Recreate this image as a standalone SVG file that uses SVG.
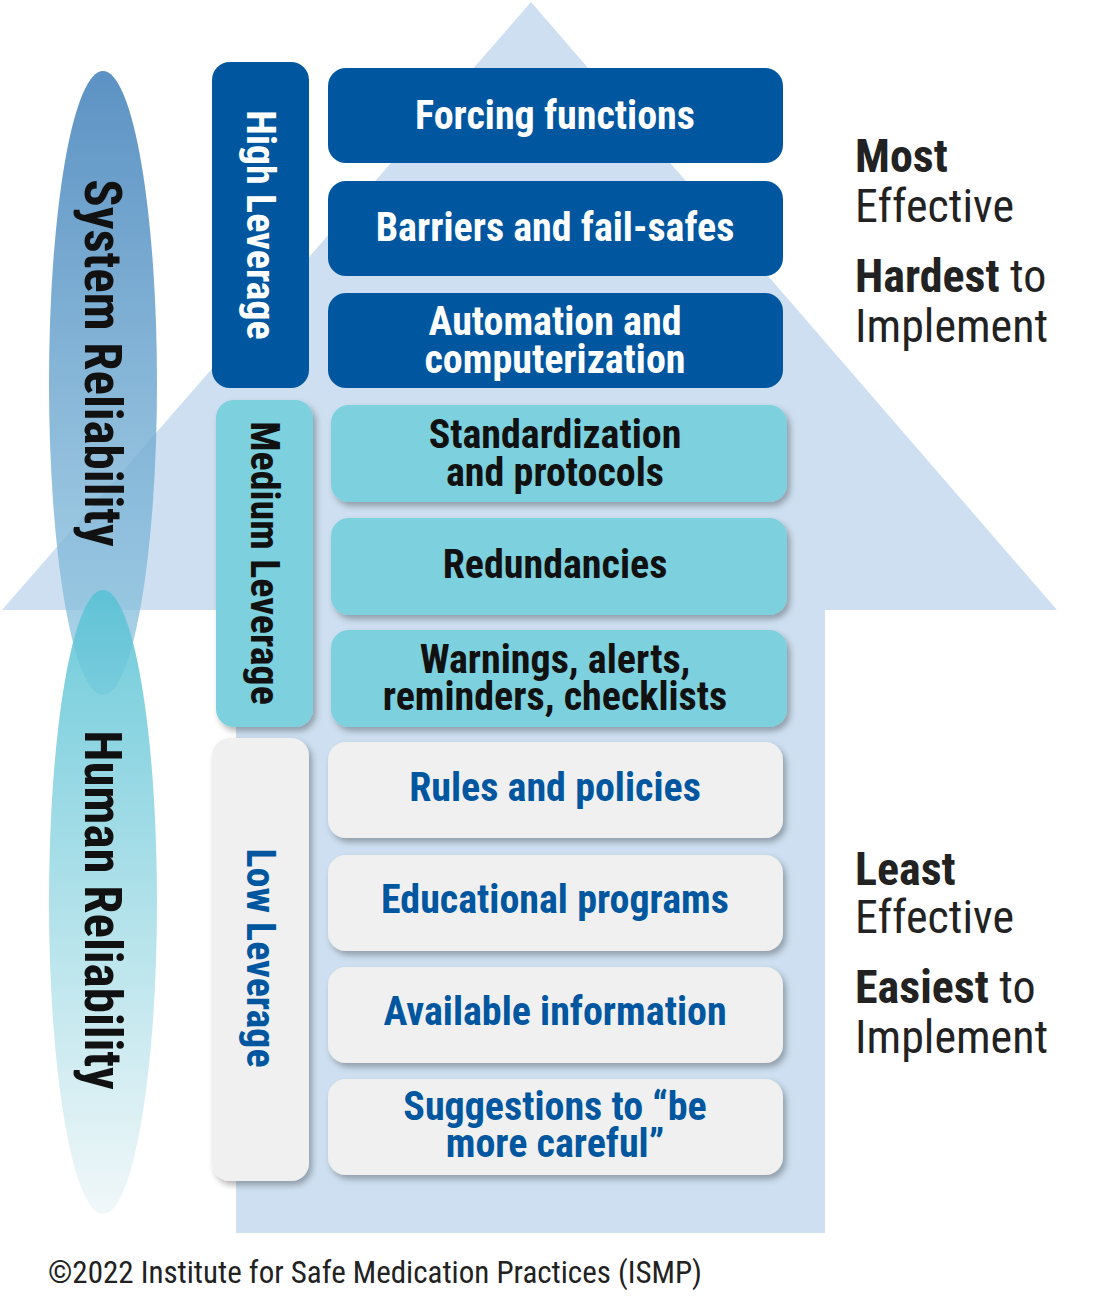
<svg xmlns="http://www.w3.org/2000/svg" width="1117" height="1297" viewBox="0 0 1117 1297">
<defs>
<linearGradient id="g1" x1="0" y1="0" x2="0" y2="1"><stop offset="0" stop-color="#4a86bd"/><stop offset="1" stop-color="#93c9e2" stop-opacity="0.85"/></linearGradient>
<linearGradient id="g2" x1="0" y1="0" x2="0" y2="1"><stop offset="0" stop-color="#55c1d4"/><stop offset="1" stop-color="#eef6f8"/></linearGradient>
<filter id="sh" x="-10%" y="-10%" width="125%" height="130%"><feDropShadow dx="3" dy="4" stdDeviation="3" flood-color="#000" flood-opacity="0.3"/></filter>
<style>
text{font-family:"Liberation Sans Narrow","Roboto Condensed",Roboto,"Liberation Sans",sans-serif;}
.b{font-weight:bold;font-size:40px;text-anchor:middle;}
.w{fill:#fff}.k{fill:#111}.u{fill:#0057a0}
.dark{fill:#0057a0}.teal{fill:#7dd0dd;filter:url(#sh)}.gray{fill:#f0f0f0;filter:url(#sh)}
.r{font-size:46px;fill:#222}
.lev{font-weight:bold;font-size:40px;text-anchor:middle}
.rel{font-weight:bold;font-size:51px;text-anchor:middle;fill:#111}
</style>
</defs>
<rect width="1117" height="1297" fill="#fff"/>
<g id="arrow"><polygon points="531,2 1057,610 825,610 825,1233 236,1233 236,610 2,610" fill="#cddff0"/></g>
<g id="ellipses">
<ellipse cx="103" cy="383" rx="54" ry="312" fill="url(#g1)" opacity="0.9"/>
<ellipse cx="103" cy="902" rx="54" ry="312" fill="url(#g2)" opacity="0.85"/>
<text transform="translate(85,363) rotate(90)" class="rel">System Reliability</text>
<text transform="translate(85,910) rotate(90)" class="rel">Human Reliability</text>
</g>
<g id="high"><rect x="212" y="62" width="97" height="326" rx="18" class="dark"/><text transform="translate(247,225) rotate(90)" class="lev w">High Leverage</text></g>
<g id="medium"><rect x="216" y="400" width="97" height="327" rx="18" class="teal"/><text transform="translate(251,563) rotate(90)" class="lev k">Medium Leverage</text></g>
<g id="low"><rect x="212" y="738" width="97" height="443" rx="18" class="gray"/><text transform="translate(247,958) rotate(90)" class="lev u">Low  Leverage</text></g>
<g id="n1"><rect x="328" y="68" width="455" height="95" rx="18" class="dark"/><text x="555" y="129" class="b w">Forcing functions</text></g>
<g id="n2"><rect x="328" y="181" width="455" height="95" rx="18" class="dark"/><text x="555" y="241" class="b w">Barriers and fail-safes</text></g>
<g id="n3"><rect x="328" y="293" width="455" height="95" rx="18" class="dark"/><text x="555" y="335" class="b w">Automation and</text><text x="555" y="373" class="b w">computerization</text></g>
<g id="n4"><rect x="331" y="405" width="456" height="97" rx="18" class="teal"/><text x="555" y="448" class="b k">Standardization</text><text x="555" y="486" class="b k">and protocols</text></g>
<g id="n5"><rect x="331" y="518" width="456" height="97" rx="18" class="teal"/><text x="555" y="578" class="b k">Redundancies</text></g>
<g id="n6"><rect x="331" y="630" width="456" height="97" rx="18" class="teal"/><text x="555" y="673" class="b k">Warnings, alerts,</text><text x="555" y="710" class="b k">reminders, checklists</text></g>
<g id="n7"><rect x="328" y="742" width="455" height="96" rx="18" class="gray"/><text x="555" y="801" class="b u">Rules and policies</text></g>
<g id="n8"><rect x="328" y="855" width="455" height="96" rx="18" class="gray"/><text x="555" y="913" class="b u">Educational programs</text></g>
<g id="n9"><rect x="328" y="967" width="455" height="96" rx="18" class="gray"/><text x="555" y="1025" class="b u">Available information</text></g>
<g id="n10"><rect x="328" y="1079" width="455" height="96" rx="18" class="gray"/><text x="555" y="1120" class="b u">Suggestions to “be</text><text x="555" y="1157" class="b u">more careful”</text></g>
<g id="labels">
<text x="855" y="172" class="r" font-weight="bold">Most</text>
<text x="855" y="222" class="r">Effective</text>
<text x="855" y="292" class="r"><tspan font-weight="bold">Hardest</tspan> to</text>
<text x="855" y="342" class="r">Implement</text>
<text x="855" y="885" class="r" font-weight="bold">Least</text>
<text x="855" y="933" class="r">Effective</text>
<text x="855" y="1003" class="r"><tspan font-weight="bold">Easiest</tspan> to</text>
<text x="855" y="1053" class="r">Implement</text>
<text x="48" y="1283" font-size="31" fill="#222">©2022 Institute for Safe Medication Practices (ISMP)</text>
</g>
</svg>
